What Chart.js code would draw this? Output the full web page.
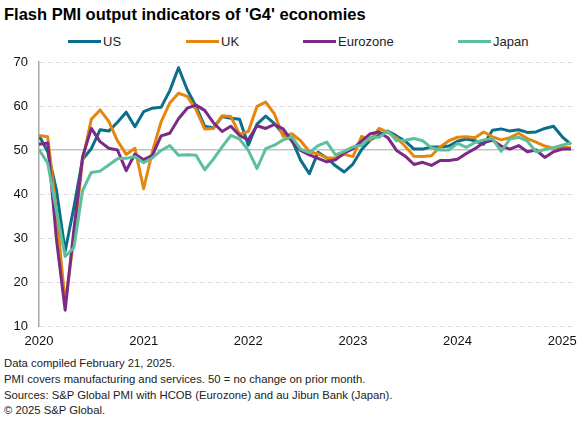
<!DOCTYPE html>
<html><head><meta charset="utf-8">
<script src="https://cdn.jsdelivr.net/npm/chart.js@4.4.1/dist/chart.umd.min.js"></script>
<style>
html,body{margin:0;padding:0;background:#fff;width:587px;height:421px;overflow:hidden;font-family:"Liberation Sans",Arial,sans-serif;color:#000}
#title{position:absolute;left:4px;top:5px;font-size:16.5px;font-weight:bold;line-height:19px;white-space:nowrap}
.lg{position:absolute;top:34px;font-size:13px;line-height:15px;white-space:nowrap;color:#222}
.lg i{display:inline-block;width:33px;height:3px;vertical-align:middle;margin-right:2px;position:relative;top:-1px}
#notes{position:absolute;left:4px;top:356px;font-size:11.3px;line-height:15.8px;white-space:nowrap;color:#222}
canvas{position:absolute;left:0;top:0}
</style></head>
<body>
<div id="title">Flash PMI output indicators of 'G4' economies</div>
<div class="lg" style="left:68px"><i style="background:#0b6e8a"></i>US</div>
<div class="lg" style="left:186px"><i style="background:#e5860f"></i>UK</div>
<div class="lg" style="left:303px"><i style="background:#7b2a86"></i>Eurozone</div>
<div class="lg" style="left:458px"><i style="background:#5cc09d"></i>Japan</div>
<canvas id="c" width="587" height="350"></canvas>
<div id="notes">Data compiled February 21, 2025.<br>PMI covers manufacturing and services. 50 = no change on prior month.<br>Sources: S&amp;P Global PMI with HCOB (Eurozone) and au Jibun Bank (Japan).<br>© 2025 S&amp;P Global.</div>
<script>
// Monthly, Jan 2020 .. Feb 2025
const yearLabels = ['2020','2021','2022','2023','2024','2025'];
const seriesNames = ['US','UK','Eurozone','Japan'];
const us = [
  53.3,49.6,40.9,27.0,37.0,47.9,50.3,54.6,54.3,56.3,58.6,55.3,
  58.7,59.5,59.7,63.5,68.7,63.7,59.9,55.4,55.0,57.6,57.2,57.0,
  51.1,55.9,57.7,56.0,53.6,52.3,47.7,44.6,49.5,48.2,46.4,45.0,
  46.8,50.1,52.3,53.4,54.3,53.2,52.0,50.2,50.2,50.7,50.7,50.9,
  52.0,52.5,52.1,51.3,54.5,54.8,54.3,54.6,54.0,54.1,54.9,55.4,
  53.0,51.3];
const uk = [
  53.3,53.0,36.0,15.2,30.0,47.7,57.0,59.1,56.5,52.1,49.0,50.4,
  41.2,49.6,56.4,60.7,62.9,62.2,59.2,54.8,54.9,57.8,57.6,53.6,
  54.2,59.9,60.9,58.2,53.1,53.7,52.1,49.6,49.1,48.2,48.2,49.0,
  48.5,53.1,52.2,54.9,54.0,52.8,50.8,48.6,48.5,48.7,50.7,52.1,
  52.9,53.0,52.8,54.1,53.0,52.3,52.8,53.8,52.6,51.8,50.9,50.4,
  50.6,50.5];
const eurozone = [
  51.3,51.6,29.7,13.6,31.9,48.5,54.9,51.9,50.4,50.0,45.3,49.1,
  47.8,48.8,53.2,53.8,57.1,59.5,60.2,59.0,56.2,54.2,55.4,53.3,
  52.3,55.5,54.9,55.8,54.8,52.0,49.9,48.9,48.1,47.3,47.8,49.3,
  50.3,52.0,53.7,54.1,52.8,49.9,48.6,46.7,47.2,46.5,47.6,47.6,
  47.9,49.2,50.3,51.7,52.2,50.9,50.2,51.0,49.6,50.0,48.3,49.6,
  50.2,50.2];
const japan = [
  50.1,47.0,36.2,25.8,27.8,40.8,44.9,45.2,46.6,48.0,48.1,48.5,
  47.1,48.2,49.9,51.0,48.8,48.9,48.8,45.5,47.9,50.7,53.3,52.5,
  49.9,45.8,50.3,51.1,52.3,53.0,50.2,49.4,51.0,51.8,48.9,49.7,
  50.7,51.1,52.9,52.9,54.3,52.1,52.2,52.6,52.1,50.5,50.0,50.0,
  51.5,50.6,51.7,52.3,52.6,49.7,52.5,52.9,52.0,49.6,50.1,50.5,
  51.1,51.6];
const yTicks = [10,20,30,40,50,60,70];

const colors = ['#0b6e8a','#e5860f','#7b2a86','#5cc09d'];
const values = [us, uk, eurozone, japan];
const toXY = arr => arr.map((v,i)=>({x:i,y:v}));

new Chart(document.getElementById('c'), {
  type:'line',
  data:{
    datasets: values.map((arr,k)=>({
      label: seriesNames[k],
      data: toXY(arr),
      borderColor: colors[k],
      backgroundColor: colors[k],
      borderWidth: 3,
      borderJoinStyle: 'round',
      pointRadius: 0,
      tension: 0,
      fill: false,
      order: 3-k
    }))
  },
  options:{
    responsive:false,
    animation:false,
    events:[],
    layout:{padding:{top:62,right:13,left:0,bottom:0}},
    plugins:{legend:{display:false},tooltip:{enabled:false}},
    scales:{
      x:{
        type:'linear', min:0, max:61.35,
        grid:{display:false, drawTicks:false},
        border:{display:false},
        afterBuildTicks: s => { s.ticks = yearLabels.map((_,i)=>({value:i*12})); },
        afterFit: s => { s.height = 24; },
        ticks:{
          autoSkip:false, maxRotation:0, padding:8, color:'#111',
          font:{family:'"Liberation Sans", Arial, sans-serif', size:13},
          callback: v => yearLabels[v/12] ?? ''
        }
      },
      y:{
        min:10, max:70,
        afterBuildTicks: s => { s.ticks = yTicks.map(v=>({value:v})); },
        afterFit: s => { s.width = 39; },
        grid:{
          drawTicks:false,
          color: c => (c.tick && c.tick.value===50) ? '#c3c3c3' : '#dcdcdc',
          lineWidth: c => (c.tick && c.tick.value===50) ? 1.6 : 1
        },
        border:{display:true, color:'#a8a8a8', width:1.5,
          dash: c => (c.tick && c.tick.value===50) ? [] : [5,3]},
        ticks:{
          padding:11, color:'#111',
          font:{family:'"Liberation Sans", Arial, sans-serif', size:13}
        }
      }
    }
  }
});
</script>
</body></html>
